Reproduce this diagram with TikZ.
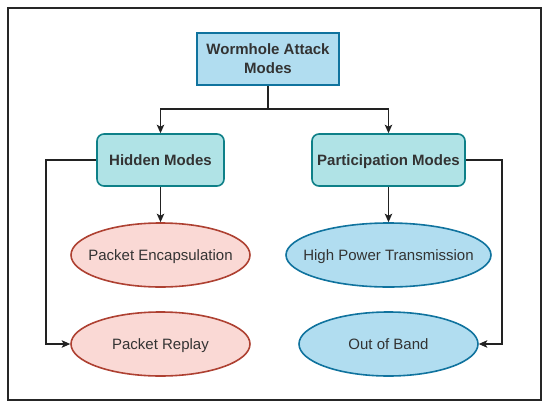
\documentclass[tikz,border=0pt]{standalone}
\usepackage{fontspec}
\setmainfont{Liberation Sans}
\usetikzlibrary{shapes.geometric,arrows.meta}
\definecolor{bluefill}{HTML}{B1DDF0}
\definecolor{bluedraw}{HTML}{10739E}
\definecolor{tealfill}{HTML}{B0E3E6}
\definecolor{tealdraw}{HTML}{0E8088}
\definecolor{redfill}{HTML}{FAD9D5}
\definecolor{reddraw}{HTML}{AE4132}
\definecolor{txt}{HTML}{333333}
\definecolor{linec}{HTML}{222222}
\tikzset{
  x=1pt, y=-1pt,
  lbl/.style={font=\fontsize{15}{19}\selectfont, text=txt, inner sep=0pt},
  onel/.style={text height=10.8pt, text depth=0pt},
  topbox/.style={lbl, align=center, font=\fontsize{15}{19}\selectfont\bfseries, draw=bluedraw, fill=bluefill, line width=1.6pt, minimum width=142pt, minimum height=52pt},
  modebox/.style={lbl, onel, font=\fontsize{15}{19}\selectfont\bfseries, draw=tealdraw, fill=tealfill, line width=1.6pt, rounded corners=7pt, minimum height=52pt},
  redell/.style={lbl, onel, ellipse, draw=reddraw, fill=redfill, line width=1.6pt, minimum width=179pt, minimum height=64pt},
  blueell/.style={lbl, onel, ellipse, draw=bluedraw, fill=bluefill, line width=1.6pt, minimum width=179pt, minimum height=64pt},
  arr/.style={draw=linec, line width=1.1pt, -{Stealth[length=8.5pt,width=7.5pt,inset=2pt]}},
}
\begin{document}
\begin{tikzpicture}
\useasboundingbox (0,0) rectangle (550,408);
\draw[line width=1.6pt, draw=black!85] (8,8) rectangle (541,400);
\node[topbox] (top) at (268,59) {Wormhole Attack\\Modes};
\node[modebox, minimum width=127pt] (hid) at (160.5,160) {Hidden Modes};
\node[modebox, minimum width=153pt] (par) at (388.5,160) {Participation Modes};
\node[redell] (enc) at (160.5,255) {\makebox[0pt]{Packet Encapsulation}};
\node[redell] (rep) at (160.5,344) {\makebox[0pt]{Packet Replay}};
\node[blueell, minimum width=205pt] (hpt) at (388.5,255) {\makebox[0pt]{High Power Transmission}};
\node[blueell] (oob) at (388.5,344) {\makebox[0pt]{Out of Band}};
\coordinate (j) at (268,109);
\draw[draw=linec, line width=1.1pt] (top.south) -- (j);
\draw[arr] (j) -| (hid.north);
\draw[arr] (j) -| (par.north);
\draw[arr] (hid.south) -- (enc.north);
\draw[arr] (par.south) -- (hpt.north);
\draw[arr] (hid.west) -- (46,160) |- (rep.west);
\draw[arr] (par.east) -- (502,160) |- (oob.east);
\end{tikzpicture}
\end{document}
